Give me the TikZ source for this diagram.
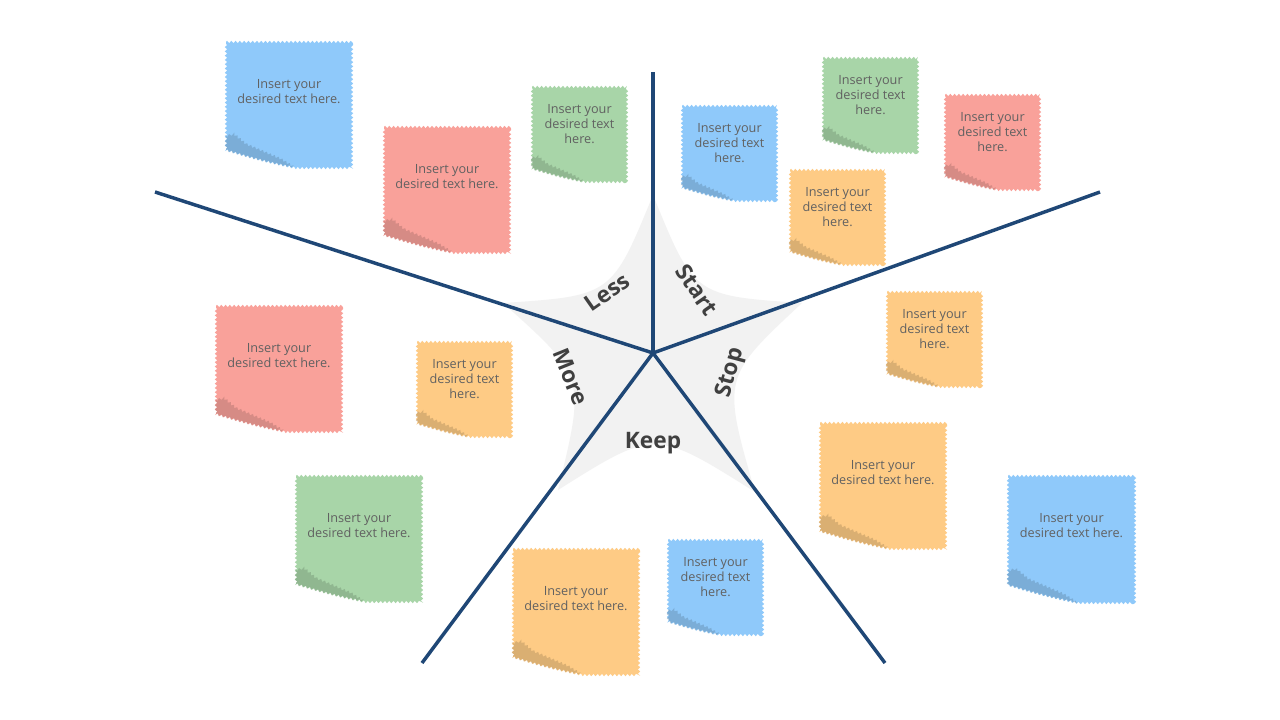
\documentclass[tikz,border=0pt]{standalone}
\usepackage{fontspec}
\setmainfont{Open Sans}
\usetikzlibrary{decorations.pathmorphing,calc}
\definecolor{nblue}{HTML}{8FC9FA}
\definecolor{nred}{HTML}{F9A19A}
\definecolor{ngreen}{HTML}{A8D5A8}
\definecolor{norange}{HTML}{FECB85}
\definecolor{axis}{HTML}{1F4776}
\definecolor{lbl}{HTML}{404040}
\tikzset{
  zz/.style={decorate,decoration={zigzag,segment length=3.2pt,amplitude=0.9pt}},
  notetext/.style={align=center,font=\fontsize{9.5}{11.2}\selectfont,text=black!62,inner sep=0pt},
  seglabel/.style={font=\bfseries\fontsize{17}{19}\selectfont,text=lbl,inner sep=0pt},
  axisline/.style={draw=axis,line width=2.6pt}
}
\newcommand\snote[6]{%
\begin{scope}[shift={(#2,#3)},scale=#4/126]
  \fill[#5,zz] (0,0) -- (126,0) -- (126,126) -- (70,126) .. controls (40,120) and (20,114) .. (0,108) -- cycle;
  \fill[#5!75!black,opacity=0.55,zz] (0,108) .. controls (20,114) and (40,120) .. (68,125) -- (55,117) -- (20,102) -- (8,92) -- (0,94) -- cycle;
\end{scope}
\node[notetext] (#1) at ({#2+#4/2},{#3+#4*0.39}) {#6};}
\begin{document}
\begin{tikzpicture}[x=0.75pt,y=-0.75pt]
\useasboundingbox (0,0) rectangle (1280,720);
\fill[white] (0,0) rectangle (1280,720);
% center star
\coordinate (c) at (653,353);
\coordinate (pT) at (653,195);
\coordinate (pR) at (802,303);
\coordinate (pBR) at (755,492);
\coordinate (pBL) at (558,490);
\coordinate (pL) at (503,303);
\fill[black!5] (pT) .. controls ($(pT)!0.5!(pR)!0.45!(c)$) .. (pR)
  .. controls ($(pR)!0.5!(pBR)!0.45!(c)$) .. (pBR)
  .. controls ($(pBR)!0.5!(pBL)!0.45!(c)$) .. (pBL)
  .. controls ($(pBL)!0.5!(pL)!0.45!(c)$) .. (pL)
  .. controls ($(pL)!0.5!(pT)!0.45!(c)$) .. (pT) -- cycle;
% axes
\coordinate (eT) at (653,72);
\coordinate (eL) at (155,192);
\coordinate (eR) at (1100,192);
\coordinate (eBL) at (422,663);
\coordinate (eBR) at (885,663);
\draw[axisline] (c) -- (eT);
\draw[axisline] (c) -- (eL);
\draw[axisline] (c) -- (eR);
\draw[axisline] (c) -- (eBL);
\draw[axisline] (c) -- (eBR);
% labels
\node[seglabel,rotate=35] (less) at (607,292) {Less};
\node[seglabel,rotate=-55] (start) at (697,290) {Start};
\node[seglabel,rotate=75] (stop) at (731,373) {Stop};
\node[seglabel,rotate=-68] (more) at (571,377) {More};
\node[seglabel] (keep) at (653,443) {Keep};
% notes
\snote{n1}{226}{42}{126}{nblue}{Insert your\\desired text here.}
\snote{n2}{384}{127}{126}{nred}{Insert your\\desired text here.}
\snote{n3}{532}{87}{95}{ngreen}{Insert your\\desired text\\here.}
\snote{n4}{682}{106}{95}{nblue}{Insert your\\desired text\\here.}
\snote{n5}{823}{58}{95}{ngreen}{Insert your\\desired text\\here.}
\snote{n6}{945}{95}{95}{nred}{Insert your\\desired text\\here.}
\snote{n7}{790}{170}{95}{norange}{Insert your\\desired text\\here.}
\snote{n8}{887}{292}{95}{norange}{Insert your\\desired text\\here.}
\snote{n9}{216}{306}{126}{nred}{Insert your\\desired text here.}
\snote{n10}{417}{342}{95}{norange}{Insert your\\desired text\\here.}
\snote{n11}{820}{423}{126}{norange}{Insert your\\desired text here.}
\snote{n12}{1008}{476}{127}{nblue}{Insert your\\desired text here.}
\snote{n13}{296}{476}{126}{ngreen}{Insert your\\desired text here.}
\snote{n14}{513}{549}{126}{norange}{Insert your\\desired text here.}
\snote{n15}{668}{540}{95}{nblue}{Insert your\\desired text\\here.}
\end{tikzpicture}
\end{document}
